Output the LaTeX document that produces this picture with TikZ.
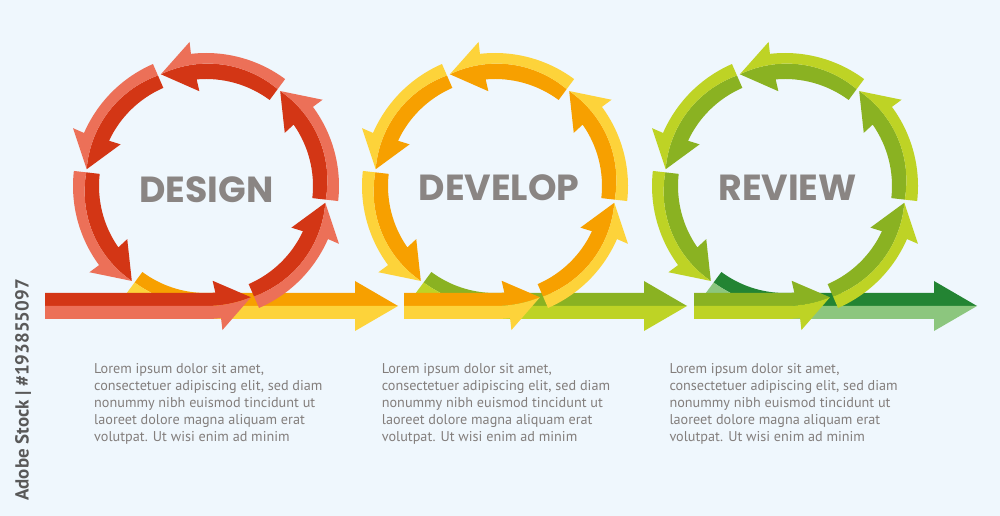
\documentclass[tikz,border=0pt]{standalone}
\usepackage{fontspec}
\usepackage{tikz}
\usetikzlibrary{positioning}
\setmainfont{PT Sans}
\newfontfamily\titlefont{Poppins}

\definecolor{paper}{HTML}{EFF7FD}
\definecolor{reddark}{HTML}{D33615}
\definecolor{redlight}{HTML}{EC7058}
\definecolor{orangedark}{HTML}{F7A000}
\definecolor{orangelight}{HTML}{FDD33A}
\definecolor{limedark}{HTML}{8AB222}
\definecolor{limelight}{HTML}{BED325}
\definecolor{greendark}{HTML}{238433}
\definecolor{greenlight}{HTML}{8CC67E}
\definecolor{inkgrey}{HTML}{8A8583}

\newcommand{\ringarrow}[3]{%
  \pgfmathsetmacro{\tipang}{#1+58.5}
  \pgfmathsetmacro{\neckin}{\tipang-17}
  \pgfmathsetmacro{\barbin}{\tipang-18}
  \pgfmathsetmacro{\neckout}{\tipang-15.5}
  \pgfmathsetmacro{\ctrla}{#1+19.2}
  \pgfmathsetmacro{\ctrlb}{#1+39.3}
  \fill[#2] (#1:107) arc[start angle=#1, end angle=\neckin, radius=107] -- (\barbin:95) -- (\tipang:120.5)
    .. controls (\ctrlb:130.3) and (\ctrla:130.3) .. (#1:120.5) -- cycle;
  \fill[#3] (#1:120.5) .. controls (\ctrla:130.3) and (\ctrlb:130.3) .. (\tipang:120.5) -- (\neckout:145) -- (\neckout:133)
    arc[start angle=\neckout, end angle=#1, radius=133] -- cycle;
}
\newcommand{\inarrow}[3]{%
  \fill[#2] (#1,-107) -- (270:107) arc[start angle=270, end angle=275, radius=107] -- (274:95) -- (292:120)
    arc[start angle=292, end angle=270, radius=120] -- (#1,-120) -- cycle;
  \fill[#3] (#1,-120) -- (270:120) arc[start angle=270, end angle=292, radius=120] -- (276.5:145) -- (276.5:133)
    arc[start angle=276.5, end angle=270, radius=133] -- (#1,-133) -- cycle;
}
\newcommand{\outarrow}[2]{%
  \fill[#1] (233.5:107) arc[start angle=233.5, end angle=270, radius=107] -- (149,-107) -- (149,-95) -- (192,-120)
    -- (270:120) arc[start angle=270, end angle=233.5, radius=120] -- cycle;
  \fill[#2] (233.5:120) arc[start angle=233.5, end angle=270, radius=120] -- (192,-120) -- (149,-145) -- (149,-133)
    -- (270:133) arc[start angle=270, end angle=233.5, radius=133] -- cycle;
}

\begin{document}
\begin{tikzpicture}[x=1pt, y=1pt,
    titlenode/.style={text=inkgrey, inner sep=0pt, font=\titlefont\bfseries\fontsize{36.3}{37}\selectfont},
    blurbnode/.style={text=inkgrey!95!black, inner sep=0pt, align=left, font=\fontsize{14.2}{17.1}\selectfont}]

        \fill[paper] (0,0) rectangle (1000,516);
        \useasboundingbox (0,0) rectangle (1000,516);

        \foreach \cx/\startx/\darka/\lighta/\darkb/\lightb in {206/-161/reddark/redlight/orangedark/orangelight,
            495/-91/orangedark/orangelight/limedark/limelight,
            785/-91/limedark/limelight/greendark/greenlight} {
          \begin{scope}[shift={(\cx,330)}]
            \outarrow{\darkb}{\lightb}
            \inarrow{\startx}{\darka}{\lighta}
            \foreach \tail in {53.5,113.5,173.5,293.5,353.5} {
              \ringarrow{\tail}{\darka}{\lighta}
            }
          \end{scope}
        }

        \node[titlenode] (design) at (206.5,326) {DESIGN};
        \node[titlenode] (develop) at (499,328) {DEVELOP};
        \node[titlenode] (review) at (787.5,328) {REVIEW};

        \node[blurbnode, anchor=north west] (blurb1) at (94,153) {Lorem ipsum dolor sit amet,\\consectetuer adipiscing elit, sed diam\\nonummy nibh euismod tincidunt ut\\laoreet dolore magna aliquam erat\\volutpat. Ut wisi enim ad minim};
        \node[blurbnode] (blurb2) [right=59pt of blurb1] {Lorem ipsum dolor sit amet,\\consectetuer adipiscing elit, sed diam\\nonummy nibh euismod tincidunt ut\\laoreet dolore magna aliquam erat\\volutpat. Ut wisi enim ad minim};
        \node[blurbnode] (blurb3) [right=59pt of blurb2] {Lorem ipsum dolor sit amet,\\consectetuer adipiscing elit, sed diam\\nonummy nibh euismod tincidunt ut\\laoreet dolore magna aliquam erat\\volutpat. Ut wisi enim ad minim};

        \node[text=black!65, rotate=90, inner sep=0pt, font=\bfseries\fontsize{18.9}{20}\selectfont] (stamp) at (23,126) {Adobe Stock | \#193855097};

\end{tikzpicture}
\end{document}
